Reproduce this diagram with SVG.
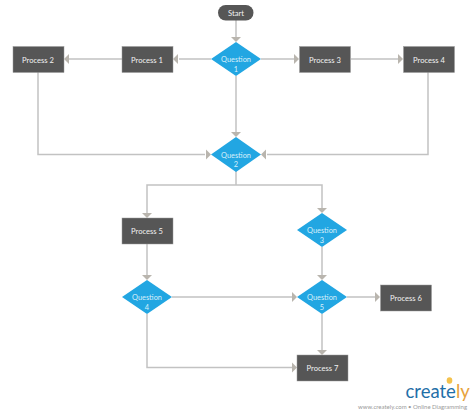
<svg xmlns="http://www.w3.org/2000/svg" width="474" height="413" viewBox="0 0 474 413">
<style>
text{font-family:Lato,"Liberation Sans",sans-serif;text-anchor:middle}
.l{font-size:7.600px;fill:#f2f2f2}
.q{font-size:7.400px;fill:#d8effa}
.p{fill:#565656;stroke:#9a9a9a;stroke-width:.5}
.d{fill:#22a6e2}
.c{fill:none;stroke:#c2c2c2;stroke-width:1.5}
.h{fill:#b9b5ae}
.b{font-size:18.500px;text-anchor:start}
</style>
<defs>
<polygon id="ad" class="h" points="-5,-5 5,-5 0,0"/>
<polygon id="ar" class="h" points="-5,-5 -5,5 0,0"/>
<polygon id="al" class="h" points="5,-5 5,5 0,0"/>
</defs>
<rect width="474" height="413" fill="#fff"/>
<g id="connectors">
<path class="c" d="M236 20V37"/>
<path class="c" d="M211 59H179"/>
<path class="c" d="M122 59H69"/>
<path class="c" d="M261 59H294"/>
<path class="c" d="M351 59H398"/>
<path class="c" d="M236 76V132"/>
<path class="c" d="M38 72V154.500H205"/>
<path class="c" d="M428 72V154.500H267"/>
<path class="c" d="M236 171V185"/>
<path class="c" d="M147 213V185H322V208"/>
<path class="c" d="M147 244V275"/>
<path class="c" d="M322 247V275"/>
<path class="c" d="M172 297H292"/>
<path class="c" d="M347 297H375"/>
<path class="c" d="M322 314V350"/>
<path class="c" d="M147 314V367.500H292"/>
<use href="#ad" x="236" y="42"/>
<use href="#al" x="173" y="59"/>
<use href="#al" x="64" y="59"/>
<use href="#ar" x="299" y="59"/>
<use href="#ar" x="403" y="59"/>
<use href="#ad" x="236" y="137"/>
<use href="#ar" x="211" y="154.500"/>
<use href="#al" x="261" y="154.500"/>
<use href="#ad" x="147" y="218"/>
<use href="#ad" x="322" y="213"/>
<use href="#ad" x="147" y="280"/>
<use href="#ad" x="322" y="280"/>
<use href="#ar" x="297" y="297"/>
<use href="#ar" x="380" y="297"/>
<use href="#ad" x="322" y="355"/>
<use href="#ar" x="297" y="367.500"/>
</g>
<g id="start"><rect x="218" y="5" width="35.500" height="15.500" rx="7.700" fill="#565656"/><text class="l" x="236" y="15.500">Start</text></g>
<g id="question1"><polygon class="d" points="236,42 261,59 236,76 211,59"/><text class="q" x="236" y="62">Question</text><text class="q" x="236" y="72">1</text></g>
<g id="process1"><rect class="p" x="122" y="46.500" width="51" height="26"/><text class="l" x="147" y="62.500">Process 1</text></g>
<g id="process2"><rect class="p" x="13" y="46.500" width="51" height="26"/><text class="l" x="38" y="62.500">Process 2</text></g>
<g id="process3"><rect class="p" x="299.500" y="46.500" width="51" height="26"/><text class="l" x="325" y="62.500">Process 3</text></g>
<g id="process4"><rect class="p" x="403.500" y="46.500" width="51" height="26"/><text class="l" x="429" y="62.500">Process 4</text></g>
<g id="question2"><polygon class="d" points="236,137 261,154.500 236,172 211,154.500"/><text class="q" x="236" y="157.500">Question</text><text class="q" x="236" y="167">2</text></g>
<g id="process5"><rect class="p" x="122" y="218" width="51" height="26"/><text class="l" x="147" y="234">Process 5</text></g>
<g id="question3"><polygon class="d" points="322,213 347,230 322,247 297,230"/><text class="q" x="322" y="233">Question</text><text class="q" x="322" y="243">3</text></g>
<g id="question4"><polygon class="d" points="147,280 172,297 147,314 122,297"/><text class="q" x="147" y="300">Question</text><text class="q" x="147" y="310">4</text></g>
<g id="question5"><polygon class="d" points="322,280 347,297 322,314 297,297"/><text class="q" x="322" y="300">Question</text><text class="q" x="322" y="310">5</text></g>
<g id="process6"><rect class="p" x="380.500" y="285" width="51" height="26"/><text class="l" x="406" y="301">Process 6</text></g>
<g id="process7"><rect class="p" x="297" y="355" width="51" height="26"/><text class="l" x="322.500" y="371">Process 7</text></g>
<g id="logo">
<ellipse cx="449.500" cy="380.500" rx="2.800" ry="3.300" fill="#f4c24d"/>
<text class="b" x="405.500" y="397.500" fill="#1f6fa8">create<tspan fill="#e8a33d">ly</tspan></text>
<text x="412.500" y="408.500" font-size="6" fill="#9a9a9a" textLength="109" lengthAdjust="spacingAndGlyphs">www.creately.com • Online Diagramming</text>
</g>
</svg>
